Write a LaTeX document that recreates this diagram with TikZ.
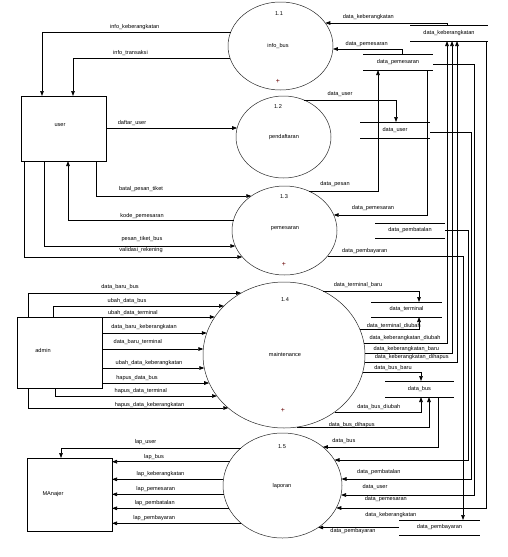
\documentclass[tikz,border=0pt]{standalone}
\usepackage{fontspec}
\setmainfont{Liberation Sans}
\usetikzlibrary{arrows.meta,shapes.geometric,calc}
\begin{document}
\begin{tikzpicture}[x=1pt,y=-1pt,
  every node/.style={font=\fontsize{5.6}{6.5}\selectfont, inner sep=0pt, outer sep=0pt},
  proc/.style={draw=black!85, line width=0.5pt, ellipse},
  ent/.style={draw, line width=0.7pt},
  store/.style={minimum height=16pt},
  flow/.style={draw, line width=0.7pt, -{Triangle[length=5pt,width=3.6pt]}},
  plus/.style={font=\fontsize{7}{8}\selectfont, text=red!40!black},
]
\useasboundingbox (0,0) rectangle (507,557);

% processes
\node[proc, minimum width=105pt, minimum height=88pt] (p1) at (280.5,46) {};
\node[proc, minimum width=95pt, minimum height=82pt] (p2) at (283.5,137) {};
\node[proc, minimum width=105pt, minimum height=89pt] (p3) at (284.5,230.5) {};
\node[proc, minimum width=162pt, minimum height=146pt] (p4) at (284,355) {};
\node[proc, minimum width=119pt, minimum height=105pt] (p5) at (282.5,485.5) {};

\node (n11) at (279,14) {1.1}; \node (t11) at (278,46) {info\_bus}; \node[plus] (x11) at (278,81) {+};
\node (n12) at (278,107) {1.2}; \node (t12) at (284,137) {pendaftaran};
\node (n13) at (284,197) {1.3}; \node (t13) at (285,229) {pemesaran}; \node[plus] (x13) at (284,264) {+};
\node (n14) at (285,300) {1.4}; \node (t14) at (285,354) {maintenance}; \node[plus] (x14) at (283,410) {+};
\node (n15) at (282,447) {1.5}; \node (t15) at (282,486) {laporan};

% entities
\node[ent, minimum width=85pt, minimum height=65pt] (user) at (63.5,128.5) {};
\node (tuser) at (60,125) {user};
\node[ent, minimum width=85pt, minimum height=71pt] (admin) at (59.5,352.5) {};
\node (tadmin) at (43,350) {admin};
\node[ent, minimum width=85pt, minimum height=73pt] (man) at (69.5,494.5) {};
\node (tman) at (53,494) {MAnajer};

% stores
\node[store, minimum width=78pt] (sk) at (449,33) {data\_keberangkatan};
\node[store, minimum width=70pt] (sp) at (398,62) {data\_pemesaran};
\node[store, minimum width=70pt] (su) at (395,130) {data\_user};
\node[store, minimum width=70pt, minimum height=15pt] (sbt) at (410,230.5) {data\_pembatalan};
\node[store, minimum width=71pt, minimum height=15pt] (st) at (406.5,309.5) {data\_terminal};
\node[store, minimum width=69pt] (sb) at (419.5,389) {data\_bus};
\node[store, minimum width=81pt, minimum height=15pt] (sy) at (439.5,527.5) {data\_pembayaran};
\foreach \s in {sk,sp,su,sbt,st,sb,sy}
  \draw[line width=0.7pt] (\s.north west) -- (\s.north east) (\s.south west) -- (\s.south east);

% 1.1
\draw[flow] ($(p1.center)+(-49.8,-14)$) -| ($(user.north west)+(21,0)$);
\node (l1) at (134.7,26.7) {info\_keberangkatan};
\draw[flow] ($(p1.center)+(-50.5,12)$) -| ($(user.north west)+(52,0)$);
\node (l2) at (130.5,52.7) {info\_transaksi};
\draw[flow] ($(sk.north west)+(37,0)$) |- ($(p1.center)+(44.8,-23)$);
\node (l3) at (368.3,17.3) {data\_keberangkatan};
\draw[flow] ($(sp.north west)+(39,0)$) |- ($(p1.center)+(52.4,3)$);
\node (l4) at (366.7,44) {data\_pemesaran};

% 1.2
\draw[flow] ($(user.east)+(0,-0.5)$) -- ($(p2.center)+(-46.3,-9)$);
\node (l5) at (132,122.7) {daftar\_user};
\draw[flow] ($(p2.center)+(20.5,-37)$) -| ($(su.north west)+(36,0)$);
\node (l6) at (340,94.3) {data\_user};

% 1.3
\draw[flow] ($(user.south west)+(75,0)$) |- ($(p3.center)+(-33.2,-34.5)$);
\node (l7) at (141,189.3) {batal\_pesan\_tiket};
\draw[flow] ($(p3.center)+(-51,-10.5)$) -| ($(user.south west)+(47,0)$);
\node (l8) at (142,215.7) {kode\_pemesaran};
\draw[flow] ($(user.south west)+(23,0)$) |- ($(p3.center)+(-49.2,15.5)$);
\node (l9) at (142,239) {pesan\_tiket\_bus};
\draw[flow] ($(user.south west)+(3,0)$) |- ($(p3.center)+(-42.2,26.5)$);
\node (l10) at (141,250) {validasi\_rekening};
\draw[flow] ($(p3.center)+(24.2,-39.5)$) -| ($(sp.south west)+(15,0)$);
\node (l11) at (335,184.3) {data\_pesan};
\draw[flow] ($(sp.south west)+(64,0)$) |- ($(p3.center)+(49.2,-15.5)$);
\node (l12) at (373,207.7) {data\_pemesaran};
\draw[flow] ($(p3.center)+(43,25.5)$) -| ($(sy.north west)+(64,0)$);
\node (l13) at (364.7,250.7) {data\_pembayaran};

% admin -> 1.4
\draw[flow] ($(admin.north west)+(11,0)$) |- ($(p4.center)+(-42.8,-62)$);
\node (l14) at (120,286.7) {data\_baru\_bus};
\draw[flow] ($(admin.north west)+(36,0)$) |- ($(p4.center)+(-60,-49)$);
\node (l15) at (127,301) {ubah\_data\_bus};
\draw[flow] (admin.north east) -- ($(p4.center)+(-69.2,-38)$);
\node (l16) at (132.8,313.3) {ubah\_data\_terminal};
\draw[flow] ($(admin.north east)+(0,16)$) -- ($(p4.center)+(-77.2,-22)$);
\node (l17) at (144,327.3) {data\_baru\_keberangkatan};
\draw[flow] ($(admin.north east)+(0,32)$) -- ($(p4.center)+(-80.7,-6)$);
\node (l18) at (137.8,342) {data\_baru\_terminal};
\draw[flow] ($(admin.north east)+(0,51)$) -- ($(p4.center)+(-79.7,13)$);
\node (l19) at (149,362.7) {ubah\_data\_keberangkatan};
\draw[flow] ($(admin.north east)+(0,66)$) -- ($(p4.center)+(-74.8,28)$);
\node (l20) at (137,378.3) {hapus\_data\_bus};
\draw[flow] ($(admin.south west)+(38,0)$) |- ($(p4.center)+(-67,41)$);
\node (l21) at (140.8,390.7) {hapus\_data\_terminal};
\draw[flow] ($(admin.south west)+(11,0)$) |- ($(p4.center)+(-55.7,53)$);
\node (l22) at (149.5,405) {hapus\_data\_keberangkatan};

% 1.4 -> stores
\draw[flow] ($(p4.center)+(39,-64)$) -| ($(st.north west)+(48,0)$);
\node (l23) at (358,285) {data\_terminal\_baru};
\draw[flow] ($(p4.center)+(75.7,-26)$) -| ($(st.south west)+(48,0)$);
\node (l24) at (393.8,325.7) {data\_terminal\_diubah};
\draw[flow] ($(p4.center)+(79.9,-12)$) -| ($(sk.south west)+(37,0)$);
\node (l25) at (405,337.7) {data\_keberangkatan\_diubah};
\draw[flow] ($(p4.center)+(81,-2)$) -| ($(sk.south west)+(42,0)$);
\node (l26) at (406.3,349) {data\_keberangkatan\_baru};
\draw[flow] ($(p4.center)+(80.6,7)$) -| ($(sk.south west)+(47,0)$);
\node (l27) at (411.7,357.3) {data\_keberangkatan\_dihapus};
\draw[flow] ($(p4.center)+(78.8,17)$) -| ($(sb.north west)+(36,0)$);
\node (l28) at (393,368.3) {data\_bus\_baru};
\draw[flow] ($(p4.center)+(50.6,57)$) -| ($(sb.south west)+(36,0)$);
\node (l29) at (378.8,407.3) {data\_bus\_diubah};
\draw[flow] ($(p4.center)+(13.4,72)$) -| ($(sb.south west)+(44,0)$);
\node (l30) at (351.7,425) {data\_bus\_dihapus};

% -> 1.5
\draw[flow] ($(sb.south west)+(53,0)$) |- ($(p5.center)+(40.4,-38.5)$);
\node (l31) at (343.8,440.7) {data\_bus};
\draw[flow] (sbt.east) -- ++(23,0) |- ($(p5.center)+(52,-25.5)$);
\node (l32) at (378.8,471.7) {data\_pembatalan};
\draw[flow] ($(su.east)+(0,2)$) -- ++(41,0) |- ($(p5.center)+(59,-6.5)$);
\node (l33) at (375,486.7) {data\_user};
\draw[flow] ($(sp.east)+(0,2)$) -- ++(41,0) |- ($(p5.center)+(58.5,9.5)$);
\node (l34) at (385.8,499.3) {data\_pemesaran};
\draw[flow] ($(sk.south east)+(-2,0)$) |- ($(p5.center)+(53.8,22.5)$);
\node (l35) at (390.8,514.7) {data\_keberangkatan};
\draw[flow] (sy.west) -- ($(p5.center)+(35.7,42)$);
\node (l36) at (353,531) {data\_pembayaran};

% 1.5 -> MAnajer
\draw[flow] ($(p5.center)+(-42,-37.2)$) -| ($(man.north west)+(34,0)$);
\node (l37) at (145.5,442.3) {lap\_user};
\draw[flow] ($(p5.center)+(-53,-23.8)$) -- ($(man.north east)+(0,3.7)$);
\node (l38) at (154,456.7) {lap\_bus};
\draw[flow] ($(p5.center)+(-59.1,-6.2)$) -- ($(man.north east)+(0,21.3)$);
\node (l39) at (160.5,474.3) {lap\_keberangkatan};
\draw[flow] ($(p5.center)+(-58.7,8.8)$) -- ($(man.north east)+(0,36.3)$);
\node (l40) at (155.7,489.3) {lap\_pemesaran};
\draw[flow] ($(p5.center)+(-53.6,22.8)$) -- ($(man.north east)+(0,50.3)$);
\node (l41) at (154.7,503.3) {lap\_pembatalan};
\draw[flow] ($(p5.center)+(-41.3,37.8)$) -- ($(man.north east)+(0,65.3)$);
\node (l42) at (154.2,518.3) {lap\_pembayaran};
\end{tikzpicture}
\end{document}
